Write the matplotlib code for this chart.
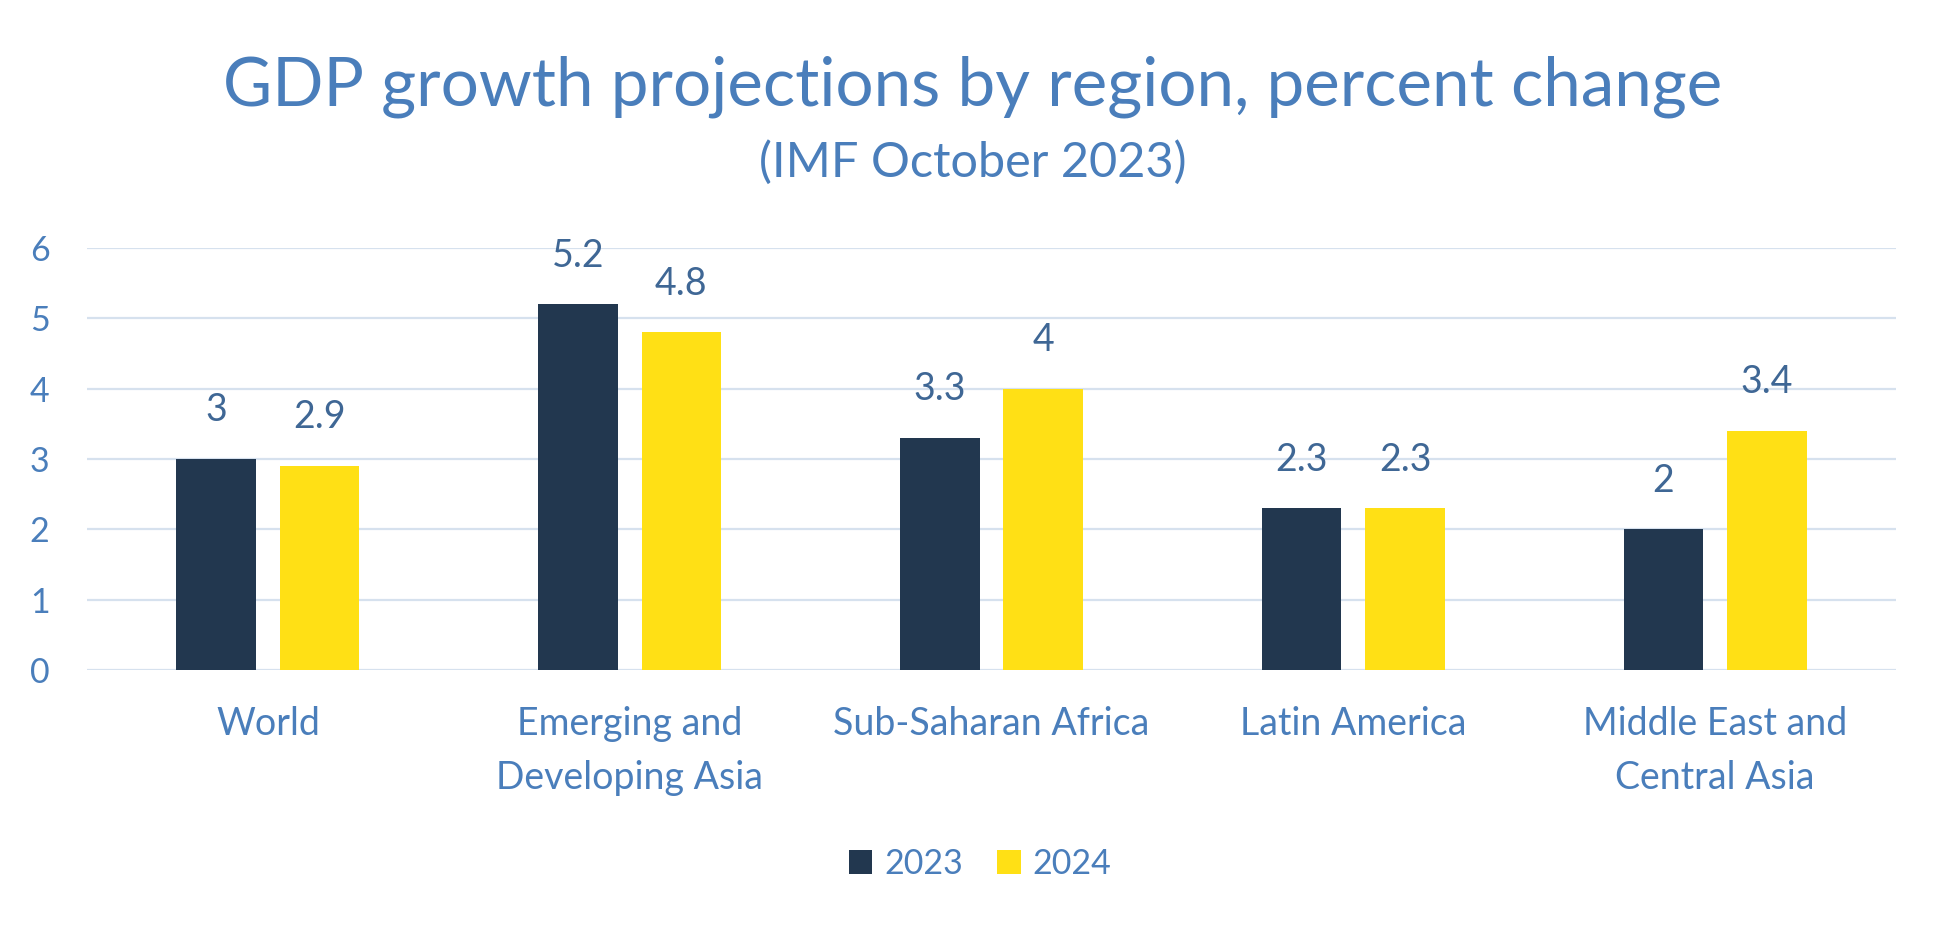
import matplotlib
matplotlib.use("Agg")
import matplotlib.pyplot as plt
import numpy as np
from matplotlib.patches import Patch

plt.rcParams["font.family"] = ["Lato", "DejaVu Sans"]

# data
regions = ["World", "Emerging and\nDeveloping Asia", "Sub-Saharan Africa",
           "Latin America", "Middle East and\nCentral Asia"]
growth_2023 = [3.0, 5.2, 3.3, 2.3, 2.0]
growth_2024 = [2.9, 4.8, 4.0, 2.3, 3.4]
series_names = ["2023", "2024"]

navy = "#22374F"
yellow = "#FFE015"
text_blue = "#4A7EBB"
label_blue = "#3F6795"
grid_col = "#D6E1EE"

fig = plt.figure(figsize=(19.46, 9.32), dpi=100)
ax = fig.add_axes([0.0447, 0.2811, 0.9296, 0.4528])

x = np.arange(len(regions))
w = 0.22
off = 0.143
b1 = ax.bar(x - off, growth_2023, w, color=navy, zorder=3)
b2 = ax.bar(x + off, growth_2024, w, color=yellow, zorder=3)

for bars in (b1, b2):
    ax.bar_label(bars, fmt="%g", padding=22, fontsize=27, color=label_blue)

ax.set_xlim(-0.5, len(regions) - 0.5)
ax.set_ylim(0, 6)
ax.set_yticks(range(0, 7))
ax.yaxis.grid(True, color=grid_col, linewidth=1.6, zorder=0)
ax.set_axisbelow(True)
for s in ax.spines.values():
    s.set_visible(False)

ax.set_xticks(x)
ax.set_xticklabels(regions, linespacing=1.62)
ax.tick_params(axis="x", length=0, pad=26, labelsize=27, labelcolor=text_blue)
ax.tick_params(axis="y", length=0, pad=27, labelsize=24.5, labelcolor=text_blue)

fig.text(0.5, 0.887, "GDP growth projections by region, percent change",
         ha="center", va="baseline", fontsize=48.5, color=text_blue)
fig.text(0.5, 0.810, "(IMF October 2023)",
         ha="center", va="baseline", fontsize=35, color=text_blue)

handles = [Patch(facecolor=navy), Patch(facecolor=yellow)]
fig.legend(handles, series_names, loc="center", bbox_to_anchor=(0.5036, 0.073),
           ncol=2, frameon=False, fontsize=24.5, labelcolor=text_blue,
           handlelength=0.7, handleheight=0.7, handletextpad=0.35,
           columnspacing=1.0)

fig.savefig("out.png", dpi=100)
